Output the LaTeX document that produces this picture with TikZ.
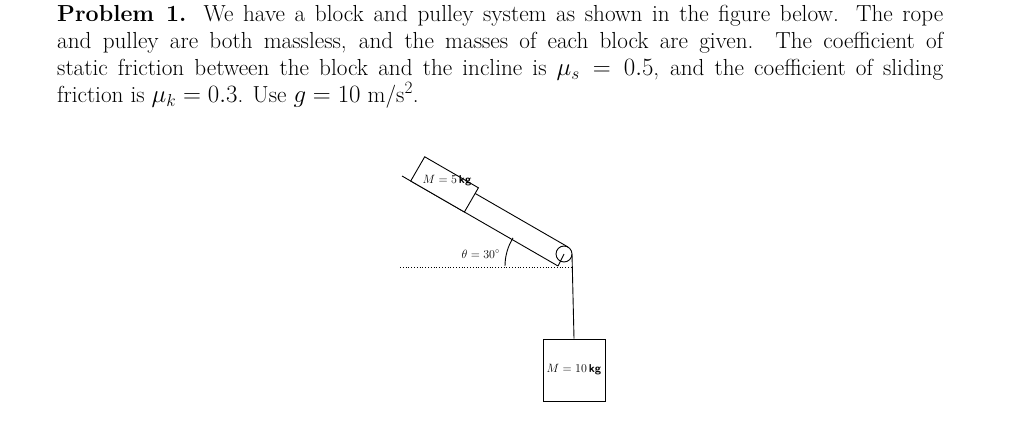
\documentclass[tikz,border=0pt]{standalone}
\usepackage{amsmath}
\begin{document}
\begin{tikzpicture}[x=1pt,y=-1pt,
  ln/.style={line width=0.9pt},
  lbl/.style={font=\fontsize{11.5}{13}\selectfont, inner sep=0pt}]
\useasboundingbox (0,0) rectangle (1024,446);
\node[anchor=north west, text width=886pt, align=justify, inner sep=0pt,
  font=\fontsize{23.2}{27}\selectfont] (txt) at (57,5)
  {\textbf{Problem 1.} We have a block and pulley system as shown in the figure below. The rope\linebreak and pulley are both massless, and the masses of each block are given. The coefficient of\linebreak static friction between the block and the incline is $\mu_s=0.5$, and the coefficient of sliding\linebreak friction is $\mu_k=0.3$. Use $g=10$ m/s$^2$.};
\coordinate (A) at (402,176);
\coordinate (B) at (558,266);
\coordinate (C) at (564,254);
\coordinate (R1) at (475.1,193.4);
\coordinate (R2) at (568,247);
\draw[ln] (A) -- (B);
\draw[ln] (B) -- (C);
\draw[ln] (C) circle[radius=8];
\draw[ln] (R1) -- (R2);
\draw[ln, fill=white] (410.7,181) -- (464.4,212) -- (478.4,187.8) -- (424.7,156.8) -- cycle;
\node[lbl] (m1) at (447,181) {$M=5$\,\textsf{\textbf{kg}}};
\draw[line width=0.8pt, dotted] (400,267) -- (572,267);
\draw[ln] ([shift={(180:53)}]B) arc[start angle=180, end angle=212, radius=53];
\node[lbl, anchor=east] (th) at (500,254) {$\theta=30^\circ$};
\node[draw, line width=0.9pt, minimum width=62pt, minimum height=62pt, inner sep=0pt] (M2) at (574,370) {};
\node[lbl] (m2) at (M2) {$M=10$\,\textsf{\textbf{kg}}};
\draw[ln] (572,254) -- (M2.north);
\end{tikzpicture}
\end{document}
